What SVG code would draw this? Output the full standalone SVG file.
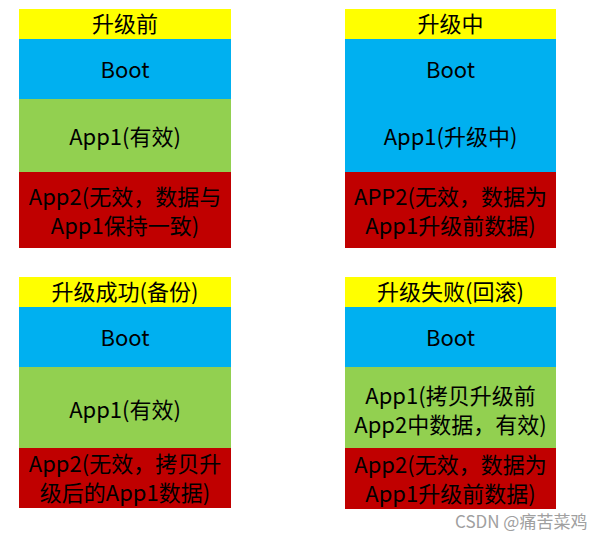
<svg xmlns="http://www.w3.org/2000/svg" width="606" height="539" viewBox="0 0 606 539">
<style>
text{font-family:"Noto Sans CJK SC","Microsoft YaHei",sans-serif;font-size:22px;fill:#000;text-anchor:middle}
.y{fill:#FFFF00}.b{fill:#00B0F0}.g{fill:#92D050}.r{fill:#C00000}
.wm{font-size:17px;fill:#a0a0a0;text-anchor:start}
</style>
<rect width="606" height="539" fill="#fff"/>
<g id="before">
<rect class="y" x="19" y="9" width="212" height="30"/>
<rect class="b" x="19" y="39" width="212" height="60"/>
<rect class="g" x="19" y="99" width="212" height="73"/>
<rect class="r" x="19" y="172" width="212" height="76"/>
<text x="125" y="32">升级前</text>
<text x="125" y="78">Boot</text>
<text x="125" y="145">App1(有效)</text>
<text x="125" y="205">App2(无效，数据与</text>
<text x="125" y="234">App1保持一致)</text>
</g>
<g id="during">
<rect class="y" x="345" y="9" width="211" height="30"/>
<rect class="b" x="345" y="39" width="211" height="133"/>
<rect class="r" x="345" y="172" width="211" height="76"/>
<text x="450.5" y="32">升级中</text>
<text x="450.5" y="78">Boot</text>
<text x="450.5" y="145">App1(升级中)</text>
<text x="450.5" y="205">APP2(无效，数据为</text>
<text x="450.5" y="234">App1升级前数据)</text>
</g>
<g id="success">
<rect class="y" x="19" y="277" width="212" height="30"/>
<rect class="b" x="19" y="307" width="212" height="60"/>
<rect class="g" x="19" y="367" width="212" height="81"/>
<rect class="r" x="19" y="448" width="212" height="60"/>
<text x="125" y="300">升级成功(备份)</text>
<text x="125" y="346">Boot</text>
<text x="125" y="418">App1(有效)</text>
<text x="125" y="472">App2(无效，拷贝升</text>
<text x="125" y="501">级后的App1数据)</text>
</g>
<g id="failure">
<rect class="y" x="345" y="277" width="211" height="30"/>
<rect class="b" x="345" y="307" width="211" height="60"/>
<rect class="g" x="345" y="367" width="211" height="81"/>
<rect class="r" x="345" y="448" width="211" height="61"/>
<text x="450.5" y="300">升级失败(回滚)</text>
<text x="450.5" y="346">Boot</text>
<text x="450.5" y="404">App1(拷贝升级前</text>
<text x="450.5" y="433">App2中数据，有效)</text>
<text x="450.5" y="473">App2(无效，数据为</text>
<text x="450.5" y="502">App1升级前数据)</text>
</g>
<g id="connectors"></g>
<text class="wm" x="455" y="528">CSDN @痛苦菜鸡</text>
</svg>
